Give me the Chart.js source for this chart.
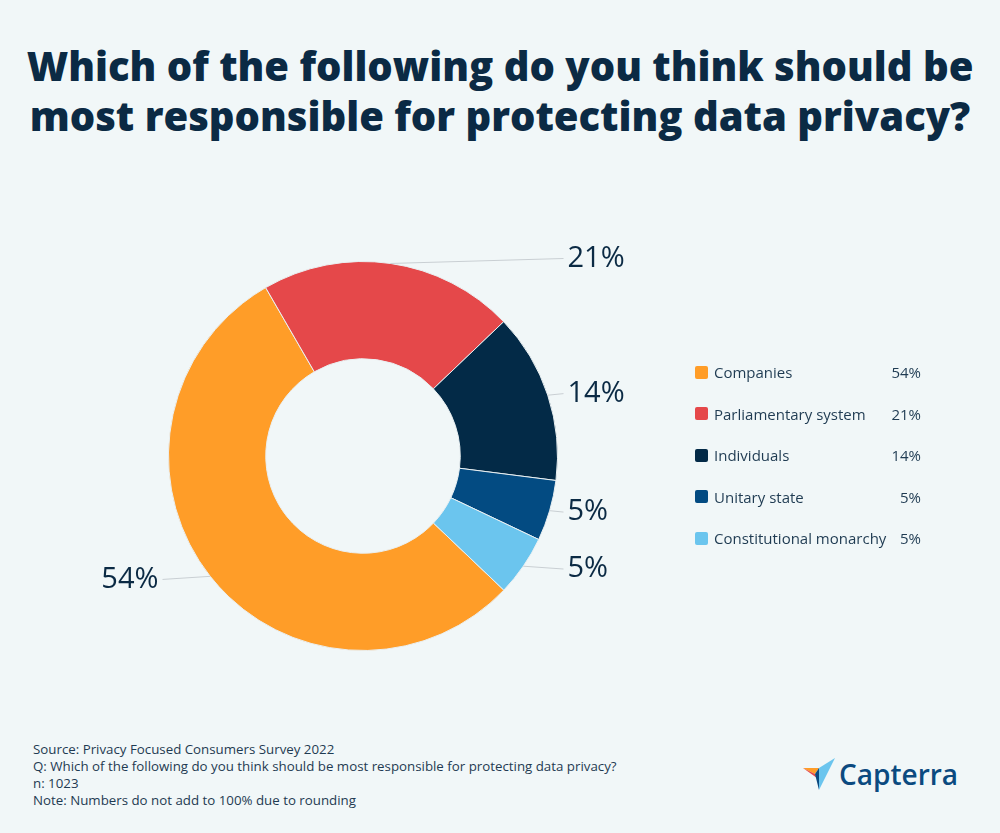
<!DOCTYPE html>
<html>
<head>
<meta charset="utf-8">
<script src="https://cdn.jsdelivr.net/npm/chart.js@4.4.0/dist/chart.umd.min.js"></script>
<style>
  html, body { margin: 0; padding: 0; }
  body {
    width: 1000px; height: 833px; position: relative; overflow: hidden;
    background: #f1f7f8; font-family: 'Open Sans', sans-serif; color: #0b2a44;
  }
  h1 {
    position: absolute; left: 0; top: 41px; width: 1000px; margin: 0;
    text-align: center; font-size: 40px; line-height: 50px; font-weight: 800;
    color: #0b2a44;
  }
  #chartBox { position: absolute; left: 0; top: 200px; width: 726px; height: 512px; }
  #legend { position: absolute; left: 695px; top: 361px; width: 226px; }
  .row { display: flex; align-items: center; height: 22px; margin-bottom: 19.5px; font-size: 15px; color: #1f3b52; }
  .sw { width: 13px; height: 13px; border-radius: 2px; margin-right: 6px; flex: none; }
  .lbl { flex: 1; }
  .pct { text-align: right; }
  #footer { position: absolute; left: 33px; top: 741px; font-size: 13.3px; line-height: 17px; color: #1f3b52; }
  #logo { position: absolute; left: 803px; top: 755px; display: flex; align-items: center; }
  #logo span { font-size: 28px; font-weight: 600; color: #0b4a80; margin-left: 2px; }
</style>
</head>
<body>
<h1>Which of the following do you think should be<br>most responsible for protecting data privacy?</h1>
<div id="chartBox"><canvas id="donut"></canvas></div>
<div id="legend"></div>
<div id="footer">
  Source: Privacy Focused Consumers Survey 2022<br>
  Q: Which of the following do you think should be most responsible for protecting data privacy?<br>
  n: 1023<br>
  Note: Numbers do not add to 100% due to rounding
</div>
<div id="logo">
  <svg width="34" height="36" viewBox="0 0 34 36">
    <polygon points="0,12 16,12 12,18" fill="#ff9d28"/>
    <polygon points="0,12 12,18 14,22" fill="#e5484a"/>
    <polygon points="16,12 32,2 16,34" fill="#6bc5ee"/>
    <polygon points="12,18 16,12 16,34" fill="#0b4a80"/>
  </svg>
  <span>Capterra</span>
</div>
<script>
const categories = ['Companies', 'Parliamentary system', 'Individuals', 'Unitary state', 'Constitutional monarchy'];
const shares = [54, 21, 14, 5, 5];
const sliceColors = ['#ff9d28', '#e5484a', '#032a47', '#034b82', '#6bc5ee'];

// legend built from the same arrays
const legendEl = document.getElementById('legend');
categories.forEach((c, i) => {
    const row = document.createElement('div');
    row.className = 'row';
    row.innerHTML = '<div class="sw" style="background:' + sliceColors[i] + '"></div>' +
        '<div class="lbl">' + c + '</div><div class="pct">' + shares[i] + '%</div>';
    legendEl.appendChild(row);
});

// outside labels with leader lines
const outsideLabels = {
    id: 'outsideLabels',
    afterDatasetsDraw(chart) {
        const ctx = chart.ctx;
        const meta = chart.getDatasetMeta(0);
        meta.data.forEach((arc, i) => {
            const p = arc.getProps(['x', 'y', 'startAngle', 'endAngle', 'outerRadius'], true);
            const a = (p.startAngle + p.endAngle) / 2;
            const sx = p.x + Math.cos(a) * p.outerRadius;
            const sy = p.y + Math.sin(a) * p.outerRadius;
            const ey = sy + Math.sin(a) * 5;
            const right = Math.cos(a) >= 0;
            const ex = right ? p.x + p.outerRadius + 6 : p.x - p.outerRadius - 6;
            ctx.save();
            ctx.strokeStyle = '#c9cfd3';
            ctx.lineWidth = 1;
            ctx.beginPath();
            ctx.moveTo(sx, sy);
            ctx.lineTo(ex, ey);
            ctx.stroke();
            ctx.fillStyle = '#0b2a44';
            ctx.font = '400 29px "Open Sans"';
            ctx.textBaseline = 'middle';
            ctx.textAlign = right ? 'left' : 'right';
            ctx.fillText(shares[i] + '%', right ? ex + 4 : ex - 4, ey);
            ctx.restore();
        });
    }
};

document.addEventListener('DOMContentLoaded', () => {
    const ctx = document.getElementById('donut').getContext('2d');
    new Chart(ctx, {
        type: 'doughnut',
        data: {
            labels: categories,
            datasets: [{
                data: shares,
                backgroundColor: sliceColors,
                borderColor: '#e9eff1',
                borderWidth: 1
            }]
        },
        options: {
            responsive: true,
            maintainAspectRatio: false,
            animation: false,
            rotation: 133.6,
            cutout: '50%',
            layout: { padding: 61 },
            plugins: {
                legend: { display: false },
                tooltip: { enabled: false }
            }
        },
        plugins: [outsideLabels]
    });
});
</script>
</body>
</html>
